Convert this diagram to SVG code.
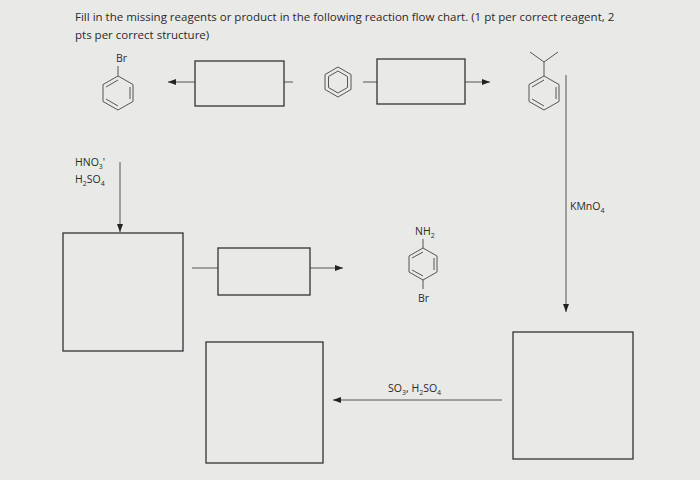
<svg xmlns="http://www.w3.org/2000/svg" width="700" height="480" viewBox="0 0 700 480">
<defs>
<marker id="ah" markerWidth="8" markerHeight="6" refX="8" refY="3" orient="auto" markerUnits="userSpaceOnUse"><path d="M0,0 L8,3 L0,6 Z" fill="#222"/></marker>
</defs>
<style>
text{font-family:"Open Sans","Liberation Sans",Arial,sans-serif;fill:#2a2a2a}
.t{font-size:11.5px}
.l{font-size:10.5px}
.box{fill:none;stroke:#333;stroke-width:1.3}
.ln{stroke:#555;stroke-width:1;fill:none}
.ring{stroke:#555;stroke-width:1;fill:none}
</style>
<rect width="700" height="480" fill="#e9e9e7"/>
<text class="t" x="75" y="21">Fill in the missing reagents or product in the following reaction flow chart. (1 pt per correct reagent, 2</text>
<text class="t" x="75" y="39">pts per correct structure)</text>

<g id="connectors">
<line class="ln" x1="195" y1="82" x2="168" y2="82" marker-end="url(#ah)"/>
<line class="ln" x1="284" y1="82" x2="293" y2="82"/>
<line class="ln" x1="363" y1="82" x2="377" y2="82"/>
<line class="ln" x1="465" y1="82" x2="490" y2="82" marker-end="url(#ah)"/>
<line class="ln" x1="120" y1="162" x2="120" y2="232" marker-end="url(#ah)"/>
<line class="ln" x1="192" y1="268" x2="218" y2="268"/>
<line class="ln" x1="310" y1="268" x2="343" y2="268" marker-end="url(#ah)"/>
<line class="ln" x1="566" y1="75" x2="566" y2="312" marker-end="url(#ah)"/>
<line class="ln" x1="502" y1="400" x2="333" y2="400" marker-end="url(#ah)"/>
</g>

<g id="bromobenzene">
<text class="l" x="116" y="62">Br</text>
<line class="ln" x1="118" y1="66" x2="118" y2="76"/>
<polygon class="ring" points="118,76 133,84.5 133,101.5 118,110 103,101.5 103,84.5"/>
<line class="ln" x1="130" y1="87" x2="130" y2="99"/><line class="ln" x1="106" y1="99" x2="118" y2="106"/><line class="ln" x1="106" y1="87" x2="118" y2="80"/>
</g>
<g id="box1"><rect class="box" x="195" y="61" width="89" height="45"/></g>
<g id="benzene">
<polygon class="ring" points="338,67 351,74.5 351,89.5 338,97 325,89.5 325,74.5"/>
<polygon class="ring" points="338,71 347.5,76.5 347.5,87.5 338,93 328.5,87.5 328.5,76.5"/>
</g>
<g id="box2"><rect class="box" x="377" y="59" width="88" height="45"/></g>
<g id="cumene">
<line class="ln" x1="544" y1="62" x2="530" y2="52"/><line class="ln" x1="544" y1="62" x2="558" y2="52"/>
<line class="ln" x1="544" y1="62" x2="544" y2="76"/>
<polygon class="ring" points="544,76 559,84.5 559,101.5 544,110 529,101.5 529,84.5"/>
<line class="ln" x1="556" y1="87" x2="556" y2="99"/><line class="ln" x1="532" y1="99" x2="544" y2="106"/><line class="ln" x1="532" y1="87" x2="544" y2="80"/>
</g>
<g id="hno3">
<text class="l" x="75" y="166">HNO<tspan font-size="7" dy="3">3</tspan><tspan dy="-3">'</tspan></text>
<text class="l" x="75" y="183">H<tspan font-size="7" dy="3">2</tspan><tspan dy="-3">SO</tspan><tspan font-size="7" dy="3">4</tspan></text>
</g>
<g id="box3"><rect class="box" x="63" y="233" width="120" height="118"/></g>
<g id="box4"><rect class="box" x="218" y="248" width="92" height="47"/></g>
<g id="bromoaniline">
<text class="l" x="415" y="235">NH<tspan font-size="7" dy="3">2</tspan></text>
<line class="ln" x1="423" y1="239" x2="423" y2="248"/>
<polygon class="ring" points="423,248 437,256 437,272 423,280 409,272 409,256"/>
<line class="ln" x1="434" y1="258" x2="434" y2="270"/><line class="ln" x1="412" y1="270" x2="423" y2="276"/><line class="ln" x1="412" y1="258" x2="423" y2="252"/>
<line class="ln" x1="423" y1="280" x2="423" y2="289"/>
<text class="l" x="418" y="302">Br</text>
</g>
<g id="kmno4"><text class="l" x="570" y="210">KMnO<tspan font-size="7" dy="3">4</tspan></text></g>
<g id="box5"><rect class="box" x="513" y="332" width="120" height="127"/></g>
<g id="so3"><text class="l" x="388" y="392">SO<tspan font-size="7" dy="3">3</tspan><tspan dy="-3">, H</tspan><tspan font-size="7" dy="3">2</tspan><tspan dy="-3">SO</tspan><tspan font-size="7" dy="3">4</tspan></text></g>
<g id="box6"><rect class="box" x="206" y="342" width="117" height="121"/></g>
</svg>
